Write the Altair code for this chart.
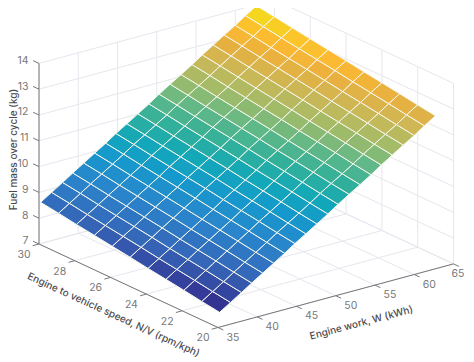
import altair as alt

W_NODES = [35.2,36.6,38.0,39.3,40.7,42.1,43.5,44.8,46.2,47.6,49.0,50.3,51.7,53.1,54.5,55.8,57.2,58.6,60.0,61.3,62.7]
NV_NODES = [20,21,22,23,24,25,26,27,28,29,30]
Z_ROWS = [
 [7.57,7.84,8.11,8.37,8.64,8.91,9.18,9.45,9.71,9.98,10.25,10.52,10.79,11.05,11.32,11.59,11.86,12.13,12.39,12.66,12.93],
 [7.67,7.94,8.21,8.47,8.74,9.01,9.28,9.55,9.81,10.08,10.35,10.62,10.89,11.15,11.42,11.69,11.96,12.23,12.49,12.76,13.03],
 [7.78,8.05,8.32,8.58,8.85,9.12,9.39,9.66,9.92,10.19,10.46,10.73,11.00,11.26,11.53,11.80,12.07,12.34,12.60,12.87,13.14],
 [7.88,8.15,8.42,8.68,8.95,9.22,9.49,9.76,10.02,10.29,10.56,10.83,11.10,11.36,11.63,11.90,12.17,12.44,12.70,12.97,13.24],
 [7.98,8.25,8.52,8.78,9.05,9.32,9.59,9.86,10.12,10.39,10.66,10.93,11.20,11.46,11.73,12.00,12.27,12.54,12.80,13.07,13.34],
 [8.09,8.36,8.63,8.89,9.16,9.43,9.70,9.97,10.23,10.50,10.77,11.04,11.31,11.57,11.84,12.11,12.38,12.65,12.91,13.18,13.45],
 [8.19,8.46,8.73,8.99,9.26,9.53,9.80,10.07,10.33,10.60,10.87,11.14,11.41,11.67,11.94,12.21,12.48,12.75,13.01,13.28,13.55],
 [8.29,8.56,8.83,9.09,9.36,9.63,9.90,10.17,10.43,10.70,10.97,11.24,11.51,11.77,12.04,12.31,12.58,12.85,13.11,13.38,13.65],
 [8.39,8.66,8.93,9.19,9.46,9.73,10.00,10.27,10.53,10.80,11.07,11.34,11.61,11.87,12.14,12.41,12.68,12.95,13.21,13.48,13.75],
 [8.50,8.77,9.04,9.30,9.57,9.84,10.11,10.38,10.64,10.91,11.18,11.45,11.72,11.98,12.25,12.52,12.79,13.06,13.32,13.59,13.86],
 [8.60,8.87,9.14,9.40,9.67,9.94,10.21,10.48,10.74,11.01,11.28,11.55,11.82,12.08,12.35,12.62,12.89,13.16,13.42,13.69,13.96],
]
W_TICKS = [35,40,45,50,55,60,65]
NV_TICKS = [20,22,24,26,28,30]
Z_TICKS = [7,8,9,10,11,12,13,14]
COLOR_Z = [7.6,8.5,9.3,10.0,10.5,11.0,11.5,12.0,12.5,13.0,13.3,13.55,13.75,13.95]
COLOR_HEX = ["#33288a","#3566b8","#2a85cc","#1599cc","#12a8b8","#32b09a","#60b888","#a0bb68","#c9b858","#e8b040","#fab733","#fcc42a","#f6d520","#f5e11a"]


def proj(w, nv, z):
    x = 39 + (w - 35) / 5 * 39.25 + (30 - nv) / 2 * 35.8
    y = 244 - (w - 35) / 5 * 10.6 + (30 - nv) / 2 * 16.7 - (z - 7) * 25.8
    return [round(x, 2), round(y, 2)]


def line(a, b):
    return {"type": "Feature", "geometry": {"type": "LineString", "coordinates": [proj(*a), proj(*b)]}}


cells = []
for i in range(len(NV_NODES) - 1):
    for j in range(len(W_NODES) - 1):
        c = [(j, i), (j + 1, i), (j + 1, i + 1), (j, i + 1), (j, i)]
        ring = [proj(W_NODES[a], NV_NODES[b], Z_ROWS[b][a]) for a, b in c]
        mean = sum(Z_ROWS[b][a] for a, b in c[:4]) / 4
        cells.append({"type": "Feature", "geometry": {"type": "Polygon", "coordinates": [ring]}, "fuel": round(mean, 3)})

grid = []
for w in W_TICKS:
    grid.append(line((w, 30, 7), (w, 30, 14)))
    grid.append(line((w, 20, 7), (w, 30, 7)))
for nv in NV_TICKS:
    grid.append(line((65, nv, 7), (65, nv, 14)))
    grid.append(line((35, nv, 7), (65, nv, 7)))
for z in Z_TICKS:
    grid.append(line((35, 30, z), (65, 30, z)))
    grid.append(line((65, 20, z), (65, 30, z)))

axes = [line((35, 30, 7), (35, 30, 14)), line((35, 20, 7), (35, 30, 7)), line((35, 20, 7), (65, 20, 7))]
for z in Z_TICKS:
    axes.append(line((35, 30, z), (35, 30.33, z)))
for nv in NV_TICKS:
    axes.append(line((35, nv, 7), (34.2, nv, 7)))
for w in W_TICKS:
    axes.append(line((w, 20, 7), (w, 19.7, 7)))

z_labels = []
for z in Z_TICKS:
    p = proj(35, 30, z)
    z_labels.append({"lon": p[0] - 10.5, "lat": p[1] - 2.7, "t": str(z)})
labels = []
for nv in NV_TICKS:
    p = proj(35, nv, 7)
    labels.append({"lon": p[0] - 15, "lat": p[1] + 10.8, "t": str(nv)})
for w in W_TICKS:
    p = proj(w, 20, 7)
    # the last label is kept just inside the drawable page width
    labels.append({"lon": min(p[0] + 15, 458), "lat": p[1] + 10, "t": str(w)})

titles = [
    {"lon": 14, "lat": 149.5, "t": "Fuel mass over cycle (kg)", "a": 270},
    {"lon": 113.5, "lat": 315, "t": "Engine to vehicle speed, N/V (rpm/kph)", "a": 24.6},
    {"lon": 361.5, "lat": 323, "t": "Engine work, W (kWh)", "a": 345},
]

FONT = "Inter"
PJ = dict(type="identity", scale=1, translate=[-8, -8])

grid_layer = alt.Chart(alt.Data(values=grid)).mark_geoshape(filled=False, stroke="#e6e6ee", strokeWidth=1).project(**PJ)
surface = alt.Chart(alt.Data(values=cells)).mark_geoshape(stroke="#f6f8ee", strokeWidth=1).encode(
    color=alt.Color("fuel:Q", legend=None, scale=alt.Scale(domain=COLOR_Z, range=COLOR_HEX, interpolate="rgb"))
).project(**PJ)
axes_layer = alt.Chart(alt.Data(values=axes)).mark_geoshape(filled=False, stroke="#77777b", strokeWidth=1).project(**PJ)
z_text = alt.Chart(alt.Data(values=z_labels)).mark_text(font=FONT, fontSize=10.5, color="#77777a", align="right").encode(
    longitude="lon:Q", latitude="lat:Q", text="t:N"
).project(**PJ)
tick_text = alt.Chart(alt.Data(values=labels)).mark_text(font=FONT, fontSize=10.5, color="#77777a").encode(
    longitude="lon:Q", latitude="lat:Q", text="t:N"
).project(**PJ)
title_text = alt.Chart(alt.Data(values=titles)).mark_text(font=FONT, fontSize=10, fontWeight=500, color="#4c4c50").encode(
    longitude="lon:Q", latitude="lat:Q", text="t:N", angle=alt.Angle("a:Q", scale=None)
).project(**PJ)

chart = alt.layer(grid_layer, surface, axes_layer, z_text, tick_text, title_text).properties(
    width=458, height=352, padding=0, autosize=alt.AutoSizeParams(type="none")
).configure_view(stroke=None)

chart.save("out.html", embed_options={"renderer": "svg", "actions": False})
